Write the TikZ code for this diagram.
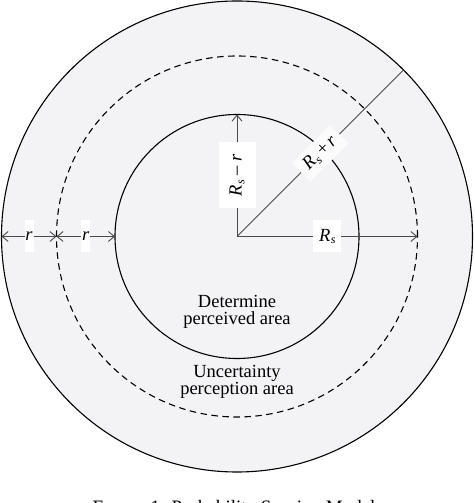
\documentclass[tikz,border=0pt]{standalone}
\usepackage{fontspec}
\setmainfont{Liberation Serif}
\usetikzlibrary{arrows.meta,calc}
\definecolor{areafill}{HTML}{F3F3F5}
\definecolor{arrowgray}{HTML}{4A4A4A}
\newcommand{\Rsub}{\textit{R}\kern0.5pt\raisebox{-0.35ex}{\fontsize{12}{12}\selectfont\textit{s}}}
\begin{document}
\begin{tikzpicture}[x=1pt,y=1pt,
  ring/.style={draw=black, line width=1.1pt},
  dim/.style={draw=arrowgray, line width=0.9pt},
  barb/.tip={Straight Barb[length=6pt,width=10pt,line width=0.9pt]},
  lab/.style={fill=white, inner sep=0pt, font=\fontsize{18.5}{18.5}\selectfont},
  txt/.style={align=center, inner sep=0pt, font=\fontsize{18.5}{17.5}\selectfont}]
\path[use as bounding box, clip] (0,0) rectangle (474,503);
\fill[white] (0,0) rectangle (474,503);
\coordinate (O) at (237,266.5);
\coordinate (Oleft) at ($(O)+(180:235.5)$);
\coordinate (Dleft) at ($(O)+(180:180.5)$);
\coordinate (Ileft) at ($(O)+(180:122)$);
\coordinate (Dright) at ($(O)+(0:180.5)$);
\coordinate (Itop) at ($(O)+(90:122)$);
\coordinate (Odiag) at ($(O)+(45:235.5)$);
% areas
\fill[areafill] (O) circle (235.5);
\draw[ring] (O) circle (235.5);
\draw[ring, dash pattern=on 6.5pt off 4.5pt] (O) circle (180.5);
\draw[ring] (O) circle (122);
% dimension lines
\draw[dim, barb-barb] (Oleft) -- (Dleft)
  node[midway, lab, minimum width=9pt, minimum height=32pt] (r1) {\textit{r}};
\draw[dim, barb-barb] (Dleft) -- (Ileft)
  node[midway, lab, minimum width=9pt, minimum height=32pt] (r2) {\textit{r}};
\draw[dim, -barb] (O) -- (Dright)
  node[midway, lab, minimum width=28pt, minimum height=32pt] (rs) {\Rsub};
\draw[dim, -barb] (O) -- (Itop)
  node[midway, lab, rotate=90, minimum width=66pt, minimum height=37pt] (rsm) {\Rsub\ – \textit{r}};
\draw[dim] (O) -- (Odiag)
  node[pos=0.5, lab, fill=areafill!35!white, rotate=45, minimum width=54pt, minimum height=26pt] (rsp) {\Rsub\,+\,\textit{r}};
% area texts
\node[txt] (det) at (237,191) {Determine\\perceived area};
\node[txt] (unc) at (237,121) {Uncertainty\\perception area};
% caption (cut off at the lower edge)
\node[anchor=base, inner sep=0pt, font=\fontsize{19}{19}\selectfont] (cap) at (234,-10.5)
  {F{\fontsize{14}{14}\selectfont IGURE} 1: Probability Sensing Model};
\end{tikzpicture}
\end{document}
